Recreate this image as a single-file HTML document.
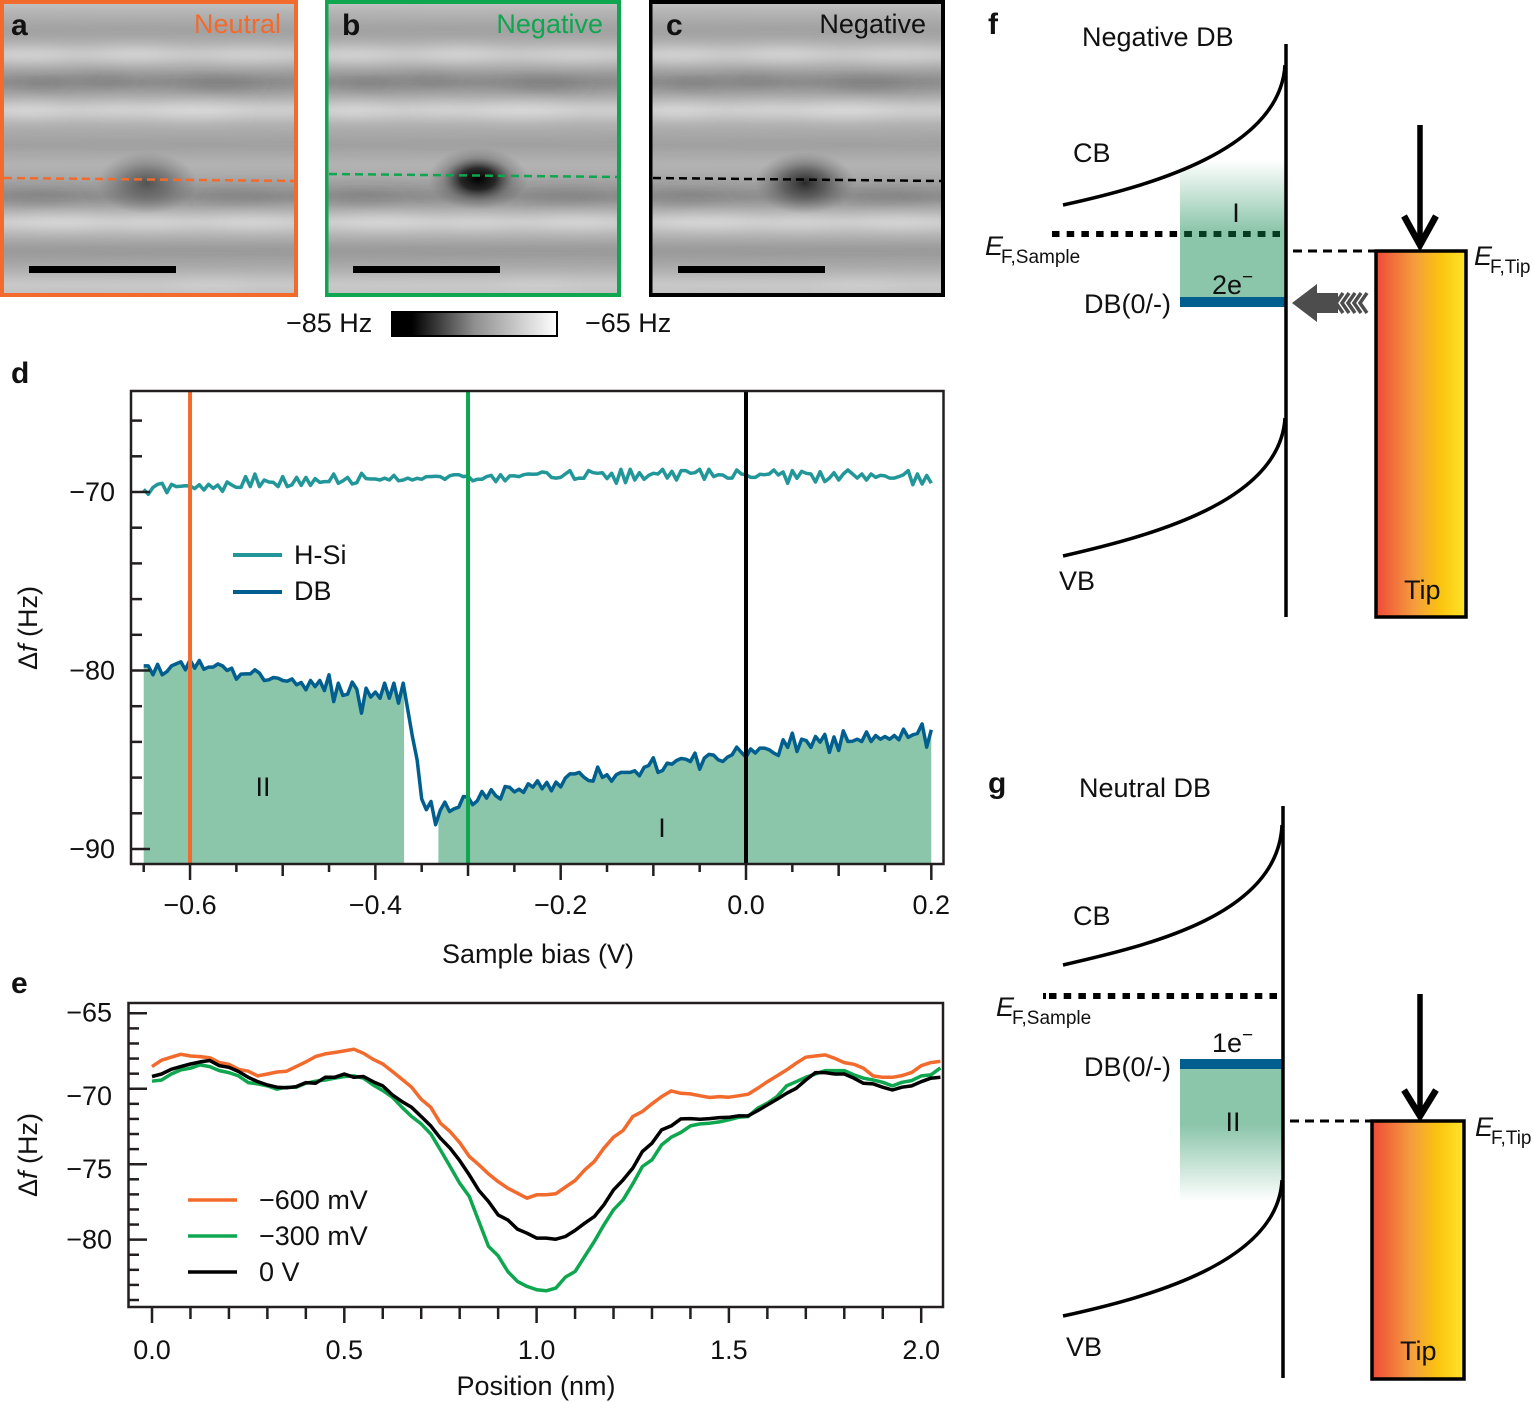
<!DOCTYPE html>
<html lang="en">
<head>
<meta charset="utf-8">
<title>Dangling bond force spectroscopy figure</title>
<style>
html,body{margin:0;padding:0;background:#fff;}
svg{display:block;}
text{font-family:"Liberation Sans",Arial,sans-serif;font-size:27px;fill:#111;}
.sub{font-size:19px;}
.letter{font-weight:bold;font-size:30px;}
</style>
</head>
<body>
<svg id="fig" xmlns="http://www.w3.org/2000/svg" width="1534" height="1402" viewBox="0 0 1534 1402">
<defs>
  <linearGradient id="bands" x1="0" y1="0" x2="0" y2="297" gradientUnits="userSpaceOnUse">
    <stop offset="0.000" stop-color="#c8c8c8"/><stop offset="0.030" stop-color="#b8b8b8"/><stop offset="0.100" stop-color="#9f9f9f"/><stop offset="0.135" stop-color="#aaaaaa"/>
    <stop offset="0.185" stop-color="#cfcfcf"/><stop offset="0.230" stop-color="#a8a8a8"/><stop offset="0.276" stop-color="#868686"/><stop offset="0.320" stop-color="#a6a6a6"/>
    <stop offset="0.370" stop-color="#d4d4d4"/><stop offset="0.420" stop-color="#b0b0b0"/><stop offset="0.488" stop-color="#9e9e9e"/><stop offset="0.555" stop-color="#b4b4b4"/>
    <stop offset="0.600" stop-color="#a8a8a8"/><stop offset="0.663" stop-color="#888888"/><stop offset="0.705" stop-color="#acacac"/><stop offset="0.748" stop-color="#d4d4d4"/>
    <stop offset="0.790" stop-color="#b4b4b4"/><stop offset="0.842" stop-color="#969696"/><stop offset="0.900" stop-color="#aaaaaa"/><stop offset="0.960" stop-color="#cccccc"/><stop offset="1" stop-color="#bcbcbc"/>
  </linearGradient>
  <filter id="scan" x="0" y="0" width="100%" height="100%">
    <feTurbulence type="fractalNoise" baseFrequency="0.012 0.7" numOctaves="2" seed="4"/>
    <feColorMatrix type="matrix" values="0 0 0 0 0.5  0 0 0 0 0.5  0 0 0 0 0.5  1.6 0 0 0 -0.55"/>
  </filter>
  <filter id="soft" x="-60%" y="-150%" width="220%" height="400%"><feGaussianBlur stdDeviation="14 7"/></filter>
  <filter id="bandBlur" x="0" y="-10%" width="100%" height="120%"><feGaussianBlur stdDeviation="0 3.5"/></filter>
  <radialGradient id="spotA"><stop offset="0" stop-color="#444" stop-opacity=".85"/><stop offset=".45" stop-color="#555" stop-opacity=".55"/><stop offset="1" stop-color="#666" stop-opacity="0"/></radialGradient>
  <radialGradient id="spotB"><stop offset="0" stop-color="#000" stop-opacity="1"/><stop offset=".35" stop-color="#111" stop-opacity=".85"/><stop offset=".7" stop-color="#444" stop-opacity=".3"/><stop offset="1" stop-color="#555" stop-opacity="0"/></radialGradient>
  <radialGradient id="spotC"><stop offset="0" stop-color="#222" stop-opacity=".95"/><stop offset=".45" stop-color="#3a3a3a" stop-opacity=".6"/><stop offset="1" stop-color="#666" stop-opacity="0"/></radialGradient>
  <g id="stm">
    <rect x="0" y="-30" width="300" height="360" fill="url(#bands)" filter="url(#bandBlur)"/>
    <g filter="url(#soft)">
      <ellipse cx="30" cy="56" rx="34" ry="7" fill="#fff" opacity=".2"/><ellipse cx="135" cy="54" rx="36" ry="7" fill="#fff" opacity=".22"/><ellipse cx="250" cy="56" rx="36" ry="7" fill="#fff" opacity=".16"/>
      <ellipse cx="45" cy="84" rx="26" ry="7" fill="#555" opacity=".22"/><ellipse cx="105" cy="80" rx="24" ry="7" fill="#555" opacity=".22"/><ellipse cx="220" cy="84" rx="40" ry="8" fill="#555" opacity=".24"/>
      <ellipse cx="30" cy="110" rx="26" ry="7" fill="#fff" opacity=".2"/><ellipse cx="195" cy="111" rx="44" ry="7" fill="#fff" opacity=".26"/><ellipse cx="120" cy="108" rx="22" ry="6" fill="#fff" opacity=".14"/>
      <ellipse cx="40" cy="198" rx="34" ry="8" fill="#555" opacity=".2"/><ellipse cx="240" cy="197" rx="40" ry="8" fill="#555" opacity=".2"/>
      <ellipse cx="60" cy="222" rx="44" ry="7" fill="#fff" opacity=".2"/><ellipse cx="150" cy="224" rx="30" ry="6" fill="#fff" opacity=".15"/><ellipse cx="250" cy="222" rx="36" ry="7" fill="#fff" opacity=".17"/>
      <ellipse cx="210" cy="286" rx="36" ry="6" fill="#fff" opacity=".14"/>
    </g>
    <rect x="0" y="0" width="300" height="297" filter="url(#scan)" opacity=".1"/>
  </g>
  <clipPath id="clipA"><rect x="0" y="0" width="298" height="297"/></clipPath>
  <clipPath id="clipB"><rect x="325" y="0" width="296" height="297"/></clipPath>
  <clipPath id="clipC"><rect x="649" y="0" width="296" height="297"/></clipPath>
  <linearGradient id="cbar"><stop offset="0" stop-color="#000"/><stop offset=".12" stop-color="#000"/><stop offset=".5" stop-color="#8f8f8f"/><stop offset="1" stop-color="#fff"/></linearGradient>
  <linearGradient id="tipGrad"><stop offset="0" stop-color="#ee4a38"/><stop offset=".42" stop-color="#f49c3e"/><stop offset=".72" stop-color="#fbc40f"/><stop offset="1" stop-color="#ffe52a"/></linearGradient>
  <linearGradient id="fadeUp" x1="0" y1="0" x2="0" y2="1"><stop offset="0" stop-color="#8bc5aa" stop-opacity="0"/><stop offset=".52" stop-color="#8bc5aa"/><stop offset="1" stop-color="#8bc5aa"/></linearGradient>
  <linearGradient id="fadeDown" x1="0" y1="0" x2="0" y2="1"><stop offset="0" stop-color="#8bc5aa"/><stop offset=".42" stop-color="#8bc5aa"/><stop offset="1" stop-color="#8bc5aa" stop-opacity="0"/></linearGradient>
  <clipPath id="clipBoxF"><rect x="1180" y="160" width="106" height="140"/></clipPath>
</defs>

<!-- STM panels -->
<g clip-path="url(#clipA)">
  <use href="#stm" x="0" y="0"/>
  <ellipse cx="147" cy="183" rx="50" ry="31" fill="url(#spotA)"/>
  <line x1="4" y1="178" x2="296" y2="181" stroke="#f26a2c" stroke-width="2.5" stroke-dasharray="8 5"/>
  <rect x="29" y="266" width="147" height="7" fill="#000"/>
  <rect x="2" y="2" width="294" height="293" fill="none" stroke="#f26a2c" stroke-width="4"/>
</g>
<g clip-path="url(#clipB)">
  <use href="#stm" x="325" y="0"/>
  <ellipse cx="478" cy="179" rx="50" ry="31" fill="url(#spotB)"/>
  <line x1="329" y1="174" x2="619" y2="177" stroke="#0fa650" stroke-width="2.5" stroke-dasharray="8 5"/>
  <rect x="353" y="266" width="147" height="7" fill="#000"/>
  <rect x="326.5" y="2" width="292.5" height="293" fill="none" stroke="#0fa650" stroke-width="4"/>
</g>
<g clip-path="url(#clipC)">
  <use href="#stm" x="649" y="0"/>
  <ellipse cx="805" cy="183" rx="50" ry="31" fill="url(#spotC)"/>
  <line x1="653" y1="178" x2="943" y2="181" stroke="#000" stroke-width="2.5" stroke-dasharray="8 5"/>
  <rect x="678" y="266" width="147" height="7" fill="#000"/>
  <rect x="650.5" y="2" width="292.5" height="293" fill="none" stroke="#000" stroke-width="4"/>
</g>
<text x="281" y="33" text-anchor="end" style="fill:#f26a2c">Neutral</text>
<text x="603" y="33" text-anchor="end" style="fill:#0fa650">Negative</text>
<text x="926" y="33" text-anchor="end">Negative</text>
<text class="letter" x="11" y="35">a</text>
<text class="letter" x="342" y="35">b</text>
<text class="letter" x="666" y="35">c</text>
<text class="letter" x="11" y="383">d</text>
<text class="letter" x="11" y="993">e</text>
<text class="letter" x="988" y="34">f</text>
<text class="letter" x="988" y="793">g</text>

<!-- colour bar -->
<g>
  <text x="286" y="332">−85 Hz</text>
  <rect x="392" y="312" width="165" height="24" fill="url(#cbar)" stroke="#000" stroke-width="2"/>
  <text x="585" y="332">−65 Hz</text>
</g>

<g id="panelD"></g>
<g id="panelE"></g>

<!-- panel f -->
<g>
  <text x="1082" y="46">Negative DB</text>
  <rect x="1180" y="160" width="106" height="138" fill="url(#fadeUp)"/>
  <path d="M1063 205 C1150 186 1280 150 1285 65" fill="none" stroke="#000" stroke-width="3.5"/>
  <path d="M1063 556 C1150 536 1280 502 1285 418" fill="none" stroke="#000" stroke-width="3.5"/>
  <line x1="1052" y1="234" x2="1286" y2="234" stroke="#000" stroke-width="6" stroke-dasharray="7.5 7.2"/>
  <line x1="1052" y1="234" x2="1286" y2="234" stroke="#063d22" stroke-width="6" stroke-dasharray="7.5 7.2" clip-path="url(#clipBoxF)"/>
  <rect x="1180" y="297" width="105" height="10" fill="#005f8f"/>
  <line x1="1286" y1="44" x2="1286" y2="617" stroke="#000" stroke-width="3.5"/>
  <text x="1073" y="162">CB</text>
  <text x="1059" y="590">VB</text>
  <text x="985" y="255"><tspan font-style="italic">E</tspan><tspan class="sub" dx="-2" dy="8">F,Sample</tspan></text>
  <text x="1236" y="222" text-anchor="middle">I</text>
  <text x="1212" y="294">2e<tspan class="sub" dy="-11">−</tspan></text>
  <text x="1084" y="313">DB(0/-)</text>
  <line x1="1293" y1="251" x2="1376" y2="251" stroke="#000" stroke-width="3" stroke-dasharray="9 6"/>
  <rect x="1376" y="251" width="90" height="366" fill="url(#tipGrad)" stroke="#000" stroke-width="3.5"/>
  <text x="1404" y="599">Tip</text>
  <text x="1474" y="265"><tspan font-style="italic">E</tspan><tspan class="sub" dx="-2" dy="8">F,Tip</tspan></text>
  <line x1="1420" y1="125" x2="1420" y2="246" stroke="#000" stroke-width="5.5"/>
  <polyline points="1404,216 1420,245 1436,216" fill="none" stroke="#000" stroke-width="6.5"/>
  <g fill="#4d4d4d">
    <polygon points="1292,303 1317,284 1317,293 1338,293 1338,313 1317,313 1317,322"/>
    <polyline points="1343,293 1336,303 1343,313" fill="none" stroke="#4d4d4d" stroke-width="3.5"/>
    <polyline points="1349,293 1342,303 1349,313" fill="none" stroke="#4d4d4d" stroke-width="3.5"/>
    <polyline points="1355,293 1348,303 1355,313" fill="none" stroke="#4d4d4d" stroke-width="3.5"/>
    <polyline points="1361,293 1354,303 1361,313" fill="none" stroke="#4d4d4d" stroke-width="3.5"/>
    <polyline points="1367,293 1360,303 1367,313" fill="none" stroke="#4d4d4d" stroke-width="3.5"/>
  </g>
</g>

<!-- panel g -->
<g>
  <text x="1079" y="797">Neutral DB</text>
  <rect x="1180" y="1068" width="103" height="134" fill="url(#fadeDown)"/>
  <path d="M1063 965 C1150 945 1278 915 1282 825" fill="none" stroke="#000" stroke-width="3.5"/>
  <path d="M1063 1316 C1150 1297 1278 1262 1282 1180" fill="none" stroke="#000" stroke-width="3.5"/>
  <rect x="1043" y="993" width="3" height="6" fill="#000"/>
  <line x1="1049" y1="996" x2="1283" y2="996" stroke="#000" stroke-width="6" stroke-dasharray="7.5 7.2"/>
  <rect x="1180" y="1059" width="103" height="10" fill="#005f8f"/>
  <line x1="1283" y1="806" x2="1283" y2="1378" stroke="#000" stroke-width="3.5"/>
  <text x="1073" y="925">CB</text>
  <text x="1066" y="1356">VB</text>
  <text x="996" y="1016"><tspan font-style="italic">E</tspan><tspan class="sub" dx="-2" dy="8">F,Sample</tspan></text>
  <text x="1212" y="1052">1e<tspan class="sub" dy="-11">−</tspan></text>
  <text x="1084" y="1076">DB(0/-)</text>
  <text x="1233" y="1131" text-anchor="middle">II</text>
  <line x1="1290" y1="1121" x2="1372" y2="1121" stroke="#000" stroke-width="3" stroke-dasharray="9 6"/>
  <rect x="1372" y="1121" width="92" height="258" fill="url(#tipGrad)" stroke="#000" stroke-width="3.5"/>
  <text x="1400" y="1360">Tip</text>
  <text x="1475" y="1136"><tspan font-style="italic">E</tspan><tspan class="sub" dx="-2" dy="8">F,Tip</tspan></text>
  <line x1="1420" y1="994" x2="1420" y2="1116" stroke="#000" stroke-width="5.5"/>
  <polyline points="1404,1090 1420,1116 1436,1090" fill="none" stroke="#000" stroke-width="6.5"/>
</g>
</svg>

<script>
// ---------- Panel d data ----------
const biasRange = [-0.65, 0.2];
const regionTwoEnd = -0.369;
const regionOneStart = -0.332;
const markerBiases = [-0.6, -0.3, 0];
const markerColours = ['#f26a2c', '#0fa650', '#000000'];
const biasTicks = [-0.65,-0.6,-0.55,-0.5,-0.45,-0.4,-0.35,-0.3,-0.25,-0.2,-0.15,-0.1,-0.05,0,0.05,0.1,0.15,0.2];
const biasLabels = ['−0.6','−0.4','−0.2','0.0','0.2'];
const biasLabelValues = [-0.6,-0.4,-0.2,0,0.2];
const dfTicksD = [-66,-68,-70,-72,-74,-76,-78,-80,-82,-84,-86,-88,-90];
const dfLabelsD = ['−70','−80','−90'];
const dfLabelValuesD = [-70,-80,-90];
const dbValues = [-79.74,-79.74,-80.24,-79.65,-80.24,-80.06,-79.74,-79.63,-79.51,-79.96,-79.4,-79.87,-79.44,-79.93,-79.81,-79.81,-79.63,-79.74,-80.0,-79.87,-80.49,-80.2,-80.19,-80.19,-79.96,-80.15,-80.56,-80.52,-80.39,-80.43,-80.56,-80.6,-80.47,-80.8,-80.67,-81.08,-80.56,-80.9,-80.56,-81.12,-80.24,-81.74,-80.71,-81.4,-81.33,-80.65,-81.05,-82.39,-80.99,-81.49,-81.21,-81.55,-80.71,-81.55,-80.71,-81.83,-80.71,-82.2,-83.7,-85.0,-87.2,-87.8,-87.34,-88.64,-87.84,-87.37,-87.9,-87.75,-87.65,-87.06,-87.09,-87.52,-87.3,-86.78,-87.15,-86.68,-87.02,-87.2,-86.5,-86.55,-86.8,-86.65,-86.83,-86.35,-86.53,-86.18,
-86.63,-86.27,-86.74,-86.25,-86.52,-86.03,-85.79,-85.79,-85.71,-85.97,-86.16,-86.20,-85.41,-85.99,-85.84,-86.20,-85.84,-85.71,-85.71,-85.71,-85.62,-85.90,-85.43,-85.32,-84.89,-85.71,-85.60,-85.19,-85.25,-85.04,-84.93,-84.97,-85.10,-84.63,-85.53,-84.91,-84.70,-84.74,-85.00,-85.10,-84.85,-84.72,-84.29,-84.59,-84.85,-84.39,-84.63,-84.35,-84.35,-84.44,-84.63,-84.76,-83.88,-84.31,-83.51,-84.54,-83.85,-83.92,-84.31,-83.70,-84.01,-83.58,-84.59,-83.72,-84.48,-83.38,-83.98,-83.96,-83.85,-83.98,-83.44,-83.98,-83.64,-83.85,-83.70,-83.85,-83.64,-83.88,-83.29,-83.75,-83.60,-83.53,-82.99,-84.29,-83.32];
const hsiValues = [-69.85,-70.13,-69.74,-69.57,-69.51,-70.04,-69.57,-69.70,-69.68,-69.65,-69.66,-69.81,-69.59,-69.89,-69.57,-69.79,-69.61,-69.96,-69.44,-69.61,-69.74,-69.74,-69.14,-69.70,-68.99,-69.70,-69.33,-69.44,-69.46,-69.70,-69.14,-69.70,-69.59,-69.18,-69.63,-69.18,-69.63,-69.25,-69.46,-69.42,-69.42,-68.99,-69.51,-69.37,-69.18,-69.55,-69.48,-68.95,-69.25,-69.27,-69.27,-69.33,-69.22,-69.33,-69.07,-69.37,-69.33,-69.22,-69.33,-69.23,-69.29,-69.14,-69.14,-69.12,-69.14,-69.29,-69.10,-69.03,-69.03,-69.14,-69.10,-69.37,-69.29,-69.29,-69.14,-69.07,-69.42,-69.03,-69.37,-69.10,-69.10,-69.14,-69.03,-68.99,-69.01,-68.99,-68.88,-68.92,-69.18,-69.22,-69.18,-68.99,-68.80,-69.29,-69.22,-69.23,-68.80,-68.92,-68.95,-68.92,-69.25,-68.95,-69.51,-68.73,-69.48,-68.73,-69.33,-68.92,-69.29,-69.07,-68.95,-68.99,-68.73,-69.22,-68.84,-69.33,-68.80,-68.80,-68.95,-68.92,-68.73,-69.29,-68.73,-69.14,-69.03,-69.05,-69.22,-69.22,-68.77,-68.99,-69.03,-69.18,-69.18,-69.01,-69.03,-68.99,-68.77,-69.05,-68.88,-69.51,-68.80,-69.23,-68.84,-68.95,-68.99,-69.44,-68.86,-69.42,-69.22,-68.92,-69.33,-68.99,-68.77,-68.99,-69.22,-68.99,-69.33,-68.99,-69.18,-69.07,-69.10,-69.22,-69.22,-69.14,-69.03,-68.80,-69.59,-68.99,-69.55,-69.07,-69.51];

// ---------- Panel e data ----------
const positionRange = [0, 2.05];
const positionTicks = [0,0.1,0.2,0.3,0.4,0.5,0.6,0.7,0.8,0.9,1,1.1,1.2,1.3,1.4,1.5,1.6,1.7,1.8,1.9,2];
const positionLabels = ['0.0','0.5','1.0','1.5','2.0'];
const positionLabelValues = [0,0.5,1,1.5,2];
const dfTicksE = [-65,-66,-67,-68,-69,-70,-71,-72,-73,-74,-75,-76,-77,-78,-79,-80,-81,-82,-83,-84];
const dfLabelsE = ['−65','−70','−75','−80'];
const dfLabelValuesE = [-65,-70,-75,-80];
const orangeValues = [-68.53,-68.11,-67.91,-67.72,-67.83,-67.87,-67.94,-68.27,-68.38,-68.71,-68.84,-69.15,-69.02,-68.89,-68.84,-68.53,-68.22,-67.87,-67.69,-67.60,-67.49,-67.38,-67.65,-68.05,-68.36,-68.86,-69.37,-69.90,-70.70,-71.23,-72.28,-72.84,-73.57,-74.49,-75.04,-75.64,-76.15,-76.59,-76.92,-77.25,-77.03,-77.03,-76.96,-76.52,-76.08,-75.38,-74.82,-73.94,-73.21,-72.77,-71.84,-71.51,-71.00,-70.52,-70.14,-70.30,-70.34,-70.47,-70.58,-70.52,-70.56,-70.47,-70.36,-69.97,-69.53,-69.15,-68.75,-68.31,-67.91,-67.83,-67.76,-67.98,-68.27,-68.38,-68.64,-69.15,-69.24,-69.24,-69.13,-68.93,-68.47,-68.27,-68.18];
const greenValues = [-69.50,-69.42,-69.02,-68.75,-68.64,-68.42,-68.53,-68.80,-68.93,-69.15,-69.59,-69.68,-69.81,-70.03,-69.90,-69.90,-69.64,-69.50,-69.42,-69.30,-69.19,-69.15,-69.30,-69.75,-70.12,-70.56,-71.23,-71.84,-72.33,-72.99,-74.05,-75.15,-76.26,-77.14,-78.80,-80.45,-81.07,-82.11,-82.77,-83.10,-83.32,-83.39,-83.21,-82.48,-82.11,-81.11,-80.12,-79.02,-78.02,-77.36,-76.30,-75.15,-74.71,-73.72,-73.21,-72.90,-72.46,-72.33,-72.28,-72.20,-72.06,-71.89,-71.84,-71.29,-70.96,-70.52,-69.81,-69.53,-69.24,-69.02,-68.80,-68.80,-68.80,-69.08,-69.30,-69.42,-69.57,-69.81,-69.57,-69.46,-69.15,-69.08,-68.62];
const blackValues = [-69.19,-69.02,-68.71,-68.53,-68.36,-68.22,-68.13,-68.47,-68.58,-68.86,-69.24,-69.53,-69.75,-69.90,-69.94,-69.86,-69.59,-69.64,-69.24,-69.24,-69.02,-69.24,-69.19,-69.53,-69.81,-70.41,-70.85,-71.23,-71.84,-72.46,-73.28,-73.94,-74.76,-75.71,-76.74,-77.47,-78.36,-78.69,-79.30,-79.57,-79.90,-79.90,-79.97,-79.79,-79.39,-78.91,-78.47,-77.69,-76.70,-76.04,-75.26,-74.16,-73.61,-72.73,-72.46,-72.00,-71.98,-72.02,-71.98,-71.91,-71.89,-71.80,-71.80,-71.45,-71.07,-70.70,-70.30,-69.97,-69.42,-68.93,-68.93,-69.02,-69.02,-69.30,-69.64,-69.68,-69.90,-70.08,-69.90,-69.81,-69.53,-69.30,-69.24];

// ---------- Axis functions ----------
const xD = v => 746 + v * 926.6;
const yD = v => 492 - (v + 70) * 17.85;
const xE = v => 152 + v * 384.6;
const yE = v => 1013.3 - (v + 65) * 15.09;

const NS = 'http://www.w3.org/2000/svg';
const INK = '#231f20';
function make(parent, tag, attrs, txt) {
  const el = document.createElementNS(NS, tag);
  for (const k in attrs) el.setAttribute(k, attrs[k]);
  if (txt !== undefined) el.textContent = txt;
  parent.appendChild(el);
  return el;
}
function pathOf(xs, ys) {
  return xs.map((x, i) => (i ? 'L' : 'M') + x.toFixed(1) + ' ' + ys[i].toFixed(1)).join(' ');
}
function near(a, b) { return Math.abs(a - b) < 1e-6; }

// ---------- Panel d ----------
const d = document.getElementById('panelD');
const biasOf = (i, n) => biasRange[0] + i * (biasRange[1] - biasRange[0]) / (n - 1);
const dbBias = dbValues.map((_, i) => biasOf(i, dbValues.length));
const hsiBias = hsiValues.map((_, i) => biasOf(i, hsiValues.length));

function dbAt(b) {
  const f = (b - biasRange[0]) / (biasRange[1] - biasRange[0]) * (dbValues.length - 1);
  const i = Math.min(Math.floor(f), dbValues.length - 2);
  return dbValues[i] + (dbValues[i + 1] - dbValues[i]) * (f - i);
}
function fillRegion(name, lo, hi) {
  const pts = [[lo, dbAt(lo)]];
  dbBias.forEach((b, i) => { if (b > lo + 1e-6 && b < hi - 1e-6) pts.push([b, dbValues[i]]); });
  pts.push([hi, dbAt(hi)]);
  const coords = pts.map(p => xD(p[0]).toFixed(1) + ',' + yD(p[1]).toFixed(1));
  coords.push(xD(hi).toFixed(1) + ',864');
  coords.push(xD(lo).toFixed(1) + ',864');
  const el = make(d, 'polygon', {points: coords.join(' '), fill: '#8bc5aa'});
  
  
}
fillRegion('region-ii-area', biasRange[0], regionTwoEnd);
fillRegion('region-i-area', regionOneStart, biasRange[1]);

const hsiLine = make(d, 'path', {d: pathOf(hsiBias.map(xD), hsiValues.map(yD)), fill: 'none', stroke: '#22979a', 'stroke-width': 3.5, 'stroke-linejoin': 'round'});


const dbLine = make(d, 'path', {d: pathOf(dbBias.map(xD), dbValues.map(yD)), fill: 'none', stroke: '#005f8f', 'stroke-width': 3.5, 'stroke-linejoin': 'round'});



markerBiases.forEach((b, i) => {
  const m = make(d, 'line', {x1: xD(b), x2: xD(b), y1: 391, y2: 864, stroke: markerColours[i], 'stroke-width': 4});
  
  
});

const frameD = make(d, 'rect', {x: 131, y: 391, width: 812.5, height: 473, fill: 'none', stroke: INK, 'stroke-width': 2.5});



biasTicks.forEach(v => {
  const isLong = biasLabelValues.some(b => near(b, v));
  const isMid = near(Math.round(v * 10) / 10, v);
  const len = isLong ? 16 : (isMid ? 12 : 8);
  const t = make(d, 'line', {x1: xD(v), x2: xD(v), y1: 864, y2: 864 + len, stroke: INK, 'stroke-width': 2.5});
  
  
});
biasLabels.forEach((s, i) => {
  const t = make(d, 'text', {x: xD(biasLabelValues[i]), y: 914, 'text-anchor': 'middle'}, s);
  
  
});
dfTicksD.forEach(v => {
  const major = dfLabelValuesD.includes(v);
  const t = make(d, 'line', {x1: 131, x2: major ? 150 : 142, y1: yD(v), y2: yD(v), stroke: INK, 'stroke-width': 2.5});
  
  
});
dfLabelsD.forEach((s, i) => {
  const t = make(d, 'text', {x: 115, y: yD(dfLabelValuesD[i]) + 9, 'text-anchor': 'end'}, s);
  
  
});
const titleD = make(d, 'text', {x: 538, y: 963, 'text-anchor': 'middle'}, 'Sample bias (V)');



function dfTitle(parent, cy, name) {
  const t = make(parent, 'text', {transform: 'translate(37 ' + cy + ') rotate(-90)', 'text-anchor': 'middle'});
  
  
  make(t, 'tspan', {}, 'Δ');
  make(t, 'tspan', {'font-style': 'italic'}, 'f');
  make(t, 'tspan', {}, ' (Hz)');
}
dfTitle(d, 628, 'y-axis-title-d');

const iLabel = make(d, 'text', {x: 263, y: 796, 'text-anchor': 'middle'}, 'II');


const iiLabel = make(d, 'text', {x: 662, y: 837, 'text-anchor': 'middle'}, 'I');



const legendD = [['H-Si', '#22979a'], ['DB', '#005f8f']];
legendD.forEach((e, i) => {
  const ly = 555 + i * 37;
  const l = make(d, 'line', {x1: 233, x2: 282, y1: ly, y2: ly, stroke: e[1], 'stroke-width': 4});
  
  
  const t = make(d, 'text', {x: 294, y: ly + 9 - i}, e[0]);
  
  
});

// ---------- Panel e ----------
const e = document.getElementById('panelE');
const seriesE = [
  {name: 'line-minus-600mv', values: orangeValues, colour: '#f26a2c', label: '−600 mV'},
  {name: 'line-minus-300mv', values: greenValues, colour: '#0fa650', label: '−300 mV'},
  {name: 'line-0v', values: blackValues, colour: '#000000', label: '0 V'}
];
seriesE.forEach(s => {
  const xs = s.values.map((_, i) => xE(positionRange[0] + i * (positionRange[1] - positionRange[0]) / (s.values.length - 1)));
  const p = make(e, 'path', {d: pathOf(xs, s.values.map(yE)), fill: 'none', stroke: s.colour, 'stroke-width': 3.5, 'stroke-linejoin': 'round'});
  
  
});
const frameE = make(e, 'rect', {x: 128.5, y: 1003, width: 814.5, height: 304, fill: 'none', stroke: INK, 'stroke-width': 2.5});



positionTicks.forEach(v => {
  const major = positionLabelValues.some(b => near(b, v));
  const t = make(e, 'line', {x1: xE(v), x2: xE(v), y1: 1307, y2: 1307 + (major ? 16 : 12), stroke: INK, 'stroke-width': 2.5});
  
  
});
positionLabels.forEach((s, i) => {
  const t = make(e, 'text', {x: xE(positionLabelValues[i]), y: 1359, 'text-anchor': 'middle'}, s);
  
  
});
dfTicksE.forEach(v => {
  const major = dfLabelValuesE.includes(v);
  const t = make(e, 'line', {x1: 128, x2: major ? 147 : 139, y1: yE(v), y2: yE(v), stroke: INK, 'stroke-width': 2.5});
  
  
});
const labelNudge = v => v === -70 ? 7 : (v === -75 ? 5 : (v === -80 ? 0 : -1));
dfLabelsE.forEach((s, i) => {
  const v = dfLabelValuesE[i];
  const t = make(e, 'text', {x: 112, y: yE(v) + 9 + labelNudge(v), 'text-anchor': 'end'}, s);
  
  
});
const titleE = make(e, 'text', {x: 536, y: 1395, 'text-anchor': 'middle'}, 'Position (nm)');


dfTitle(e, 1155, 'y-axis-title-e');

seriesE.forEach((s, i) => {
  const ly = 1200 + i * 36;
  const l = make(e, 'line', {x1: 188, x2: 237, y1: ly, y2: ly, stroke: s.colour, 'stroke-width': 3.5});
  
  
  const t = make(e, 'text', {x: 259, y: ly + 9}, s.label);
  
  
});
</script>
</body>
</html>
